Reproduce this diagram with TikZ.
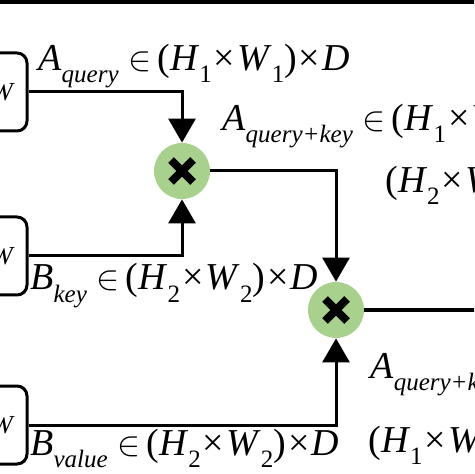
\documentclass[tikz,border=0pt]{standalone}
\usepackage{fontspec}
\setmainfont{Liberation Serif}
\usepackage{tikz}
\usetikzlibrary{arrows.meta, positioning}
\usepackage{xcolor}
\definecolor{mulgreen}{HTML}{A9D18E}
\newcommand{\sbs}[1]{\raisebox{-6pt}{\fontsize{12.5}{13}\selectfont #1}}
\newcommand{\tms}{\hspace{1pt}×\hspace{1pt}}

\begin{document}
\begin{tikzpicture}[x=0.5pt, y=-0.5pt,
  block/.style={draw, line width=1.5pt, rounded corners=5pt, minimum width=25pt,
    minimum height=39pt, inner sep=0pt, font=\fontsize{13}{15}\selectfont\itshape},
  mul/.style={circle, fill=mulgreen, minimum size=28pt, inner sep=0pt,
    path picture={
      \draw[line width=4pt] (path picture bounding box.center) ++(-5.5pt,-5.5pt) -- ++(11pt,11pt);
      \draw[line width=4pt] (path picture bounding box.center) ++(-5.5pt,5.5pt) -- ++(11pt,-11pt);
    }},
  flow/.style={line width=1.5pt, -{Triangle[width=13.5pt, length=12pt]}},
  lbl/.style={anchor=base west, inner sep=0pt, font=\fontsize{19}{23}\selectfont}]
  \useasboundingbox (0,0) rectangle (474,474);
  \clip (0,0) rectangle (474,474);
  % edge of the block above
  \fill (-10,-20) rectangle (484,4.5);
  \node[block] (query) at (2,92) {W};
  \node[block] (key) at (2,256) {W};
  \node[block] (value) at (2,425) {W};
  \node[mul] (mulQK) at (182,171) {};
  \node[mul] (mulV) at (336,310) {};
  \coordinate (out) at (500,310);
  \draw[flow] (query.east) -| (mulQK.north);
  \draw[flow] (key.east) -| (mulQK.south);
  \draw[flow] (mulQK.east) -| (mulV.north);
  \draw[flow] (value.east) -| (mulV.south);
  \draw[line width=1.5pt] (mulV.east) -- (out);
  % labels
  \node[lbl] (lq) at (38,71) {\textit{A}\sbs{\textit{query}} $\in$\,(\textit{H}\sbs{1}\tms\textit{W}\sbs{1})\tms\textit{D}};
  \node[lbl] (lqk) at (222,131) {\textit{A}\sbs{\textit{query+key}} $\in$\,(\textit{H}\sbs{1}\tms\textit{W}\sbs{1})\tms};
  \node[lbl] (lqk2) at (385,193) {(\textit{H}\sbs{2}\tms\textit{W}\sbs{2})};
  \node[lbl] (lk) at (30,290) {\textit{B}\sbs{\textit{key}} $\in$\,(\textit{H}\sbs{2}\tms\textit{W}\sbs{2})\tms\textit{D}};
  \node[lbl] (lv) at (30,455) {\textit{B}\sbs{\textit{value}} $\in$\,(\textit{H}\sbs{2}\tms\textit{W}\sbs{2})\tms\textit{D}};
  \node[lbl] (lqkv) at (370,378) {\textit{A}\sbs{\textit{query+key}}};
  \node[lbl] (lqkv2) at (368,452) {(\textit{H}\sbs{1}\tms\textit{W}\sbs{1})};
\end{tikzpicture}
\end{document}
